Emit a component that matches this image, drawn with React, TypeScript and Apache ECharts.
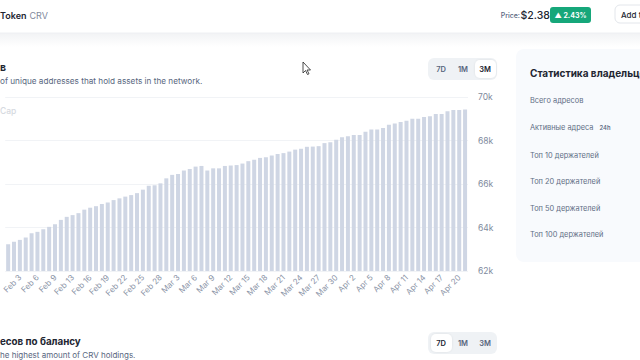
import React, { useEffect, useRef } from "react";
import * as echarts from "echarts";

const dates: string[] = [
  "Feb 1", "Feb 2", "Feb 3", "Feb 4", "Feb 5", "Feb 6", "Feb 7", "Feb 8", "Feb 9",
  "Feb 11", "Feb 12", "Feb 13", "Feb 14", "Feb 15", "Feb 16", "Feb 17", "Feb 18", "Feb 19",
  "Feb 20", "Feb 21", "Feb 22", "Feb 23", "Feb 24", "Feb 25", "Feb 26", "Feb 27", "Feb 28",
  "Mar 1", "Mar 2", "Mar 3", "Mar 4", "Mar 5", "Mar 6", "Mar 7", "Mar 8", "Mar 9", "Mar 10",
  "Mar 11", "Mar 12", "Mar 13", "Mar 14", "Mar 15", "Mar 16", "Mar 17", "Mar 18", "Mar 19",
  "Mar 20", "Mar 21", "Mar 22", "Mar 23", "Mar 24", "Mar 25", "Mar 26", "Mar 27", "Mar 28",
  "Mar 29", "Mar 30", "Mar 31", "Apr 1", "Apr 2", "Apr 3", "Apr 4", "Apr 5", "Apr 6", "Apr 7",
  "Apr 8", "Apr 9", "Apr 10", "Apr 11", "Apr 12", "Apr 13", "Apr 14", "Apr 15", "Apr 16",
  "Apr 17", "Apr 18", "Apr 19", "Apr 20", "Apr 21",
];

const holders: number[] = [
  63230, 63340, 63430, 63540, 63740, 63800, 63920, 64030, 64150, 64350, 64490, 64570, 64660,
  64820, 64910, 64980, 65080, 65150, 65260, 65340, 65420, 65490, 65580, 65740, 65920, 65940,
  66030, 66260, 66420, 66460, 66620, 66690, 66800, 66830, 66620, 66720, 66720, 66830, 66850,
  66870, 66940, 67050, 67110, 67200, 67230, 67310, 67380, 67420, 67490, 67580, 67620, 67710,
  67720, 67740, 67880, 67920, 68030, 68150, 68200, 68250, 68250, 68400, 68510, 68510, 68580,
  68720, 68780, 68850, 68910, 69000, 69000, 69080, 69120, 69220, 69220, 69340, 69400, 69400,
  69430,
];

const yMin = 62000;
const yMax = 70000;
const yStep = 2000;

const statRows: string[] = [
  "Всего адресов",
  "Активные адреса",
  "Топ 10 держателей",
  "Топ 20 держателей",
  "Топ 50 держателей",
  "Топ 100 держателей",
];

const FONT = "Inter, 'Noto Sans', sans-serif";

function segButtons(y: number, selected: number) {
  const labels = ["7D", "1M", "3M"];
  const children: any[] = [
    { type: "rect", shape: { x: 428, y, width: 69, height: 22, r: 6 }, style: { fill: "#eff2f5" } },
  ];
  labels.forEach((l, i) => {
    const cx = 441 + i * 22;
    if (i === selected) {
      children.push({
        type: "rect",
        shape: { x: cx - 10, y: y + 2, width: 21, height: 18, r: 5 },
        style: { fill: "#ffffff", shadowBlur: 2, shadowColor: "rgba(0,0,0,0.08)" },
      });
    }
    children.push({
      type: "text",
      x: cx,
      y: y + 11,
      style: {
        text: l,
        font: `600 7.5px ${FONT}`,
        fill: i === selected ? "#222531" : "#58667e",
        textAlign: "center",
        textVerticalAlign: "middle",
      },
    });
  });
  return children;
}

export default function App() {
  const ref = useRef<HTMLDivElement>(null);
  useEffect(() => {
    if (!ref.current) return;
    const chart = echarts.init(ref.current, null, { renderer: "svg" });
    const graphics: any[] = [
      // header
      { type: "rect", shape: { x: 0, y: 33, width: 640, height: 14 }, style: {
        fill: new echarts.graphic.LinearGradient(0, 0, 0, 1, [
          { offset: 0, color: "rgba(88,102,126,0.08)" },
          { offset: 1, color: "rgba(88,102,126,0)" },
        ]) }, z: 0 },
      { type: "rect", shape: { x: 0, y: 0, width: 640, height: 33 }, style: { fill: "#ffffff" } },
      { type: "line", shape: { x1: 0, y1: 33, x2: 640, y2: 33 }, style: { stroke: "#eef0f3", lineWidth: 1 } },
      { type: "text", x: 0, y: 15, style: { text: "Token", font: `600 9px ${FONT}`, fill: "#222531", textVerticalAlign: "middle" } },
      { type: "text", x: 29.5, y: 15, style: { text: "CRV", font: `400 9px ${FONT}`, fill: "#808a9d", textVerticalAlign: "middle" } },
      { type: "text", x: 520, y: 15, style: { text: "Price:", font: `500 7px ${FONT}`, fill: "#58667e", textAlign: "right", textVerticalAlign: "middle" } },
      { type: "text", x: 520.5, y: 15, style: { text: "$2.38", font: `500 10.5px ${FONT}`, fill: "#222531", textVerticalAlign: "middle" } },
      { type: "rect", shape: { x: 550, y: 7, width: 41, height: 16, r: 3 }, style: { fill: "#16a77a" } },
      { type: "text", x: 570.5, y: 15.5, style: { text: "▲ 2.43%", font: `700 7px ${FONT}`, fill: "#ffffff", textAlign: "center", textVerticalAlign: "middle" } },
      { type: "rect", shape: { x: 615, y: 5, width: 60, height: 18, r: 5 }, style: { fill: "#ffffff", stroke: "#e3e6eb", lineWidth: 1 } },
      { type: "text", x: 621, y: 14.5, style: { text: "Add to", font: `500 8px ${FONT}`, fill: "#222531", textVerticalAlign: "middle" } },

      // left section titles
      { type: "text", x: 0, y: 67, style: { text: "в", font: `700 10.5px ${FONT}`, fill: "#222531", textVerticalAlign: "middle" } },
      { type: "text", x: 0, y: 81, style: { text: "of unique addresses that hold assets in the network.", font: `400 8.2px ${FONT}`, fill: "#58667e", textVerticalAlign: "middle" } },
      { type: "text", x: 0, y: 111, style: { text: "Cap", font: `500 8.5px ${FONT}`, fill: "#d5d9e0", textVerticalAlign: "middle" } },
      ...segButtons(58, 2),

      // bottom section
      { type: "text", x: 0, y: 341, style: { text: "есов по балансу", font: `700 9.8px ${FONT}`, fill: "#222531", textVerticalAlign: "middle" } },
      { type: "text", x: 0, y: 355, style: { text: "he highest amount of CRV holdings.", font: `400 8px ${FONT}`, fill: "#58667e", textVerticalAlign: "middle" } },
      ...segButtons(332, 0),

      // right card
      { type: "rect", shape: { x: 516, y: 49, width: 140, height: 213, r: 8 }, style: { fill: "#f8fafd" } },
      { type: "text", x: 530, y: 73, style: { text: "Статистика владельцев", font: `700 10px ${FONT}`, fill: "#222531", textVerticalAlign: "middle" } },
      ...statRows.map((t, i) => ({
        type: "text", x: 530, y: [100, 127, 155, 181, 208, 234][i],
        style: { text: t, font: `400 7.4px ${FONT}`, fill: "#616e85", textVerticalAlign: "middle" },
      })),
      { type: "text", x: 599.5, y: 127, style: { text: "24h", font: `600 5.8px ${FONT}`, fill: "#616e85", textVerticalAlign: "middle" } },

      // mouse cursor
      { type: "polygon", shape: { points: [[303, 62], [303, 73], [305.5, 70.5], [307.5, 74.5], [309, 73.8], [307, 70], [310.5, 70]] },
        style: { fill: "#ffffff", stroke: "#222222", lineWidth: 0.8 }, z: 100 },
    ];

    chart.setOption({
      animation: false,
      backgroundColor: "#ffffff",
      grid: { left: -2, right: 172, top: 97, bottom: 89, containLabel: false },
      xAxis: {
        type: "category",
        data: dates,
        axisLine: { show: false },
        axisTick: { show: false },
        axisLabel: {
          interval: (idx: number) => idx % 3 === 2,
          rotate: 45,
          fontSize: 8,
          fontFamily: FONT,
          color: "#8a93a6",
          margin: 5,
        },
      },
      yAxis: {
        type: "value",
        position: "right",
        min: yMin,
        max: yMax,
        interval: yStep,
        axisLine: { show: false },
        axisTick: { show: false },
        axisLabel: {
          fontSize: 8.5,
          fontFamily: FONT,
          color: "#808a9d",
          margin: 10,
          formatter: (v: number) => `${v / 1000}k`,
        },
        splitLine: { lineStyle: { color: "#f1f3f6", width: 1 } },
      },
      series: [
        {
          type: "bar",
          data: holders,
          barWidth: 4,
          itemStyle: { color: "#cfd6e4" },
        },
      ],
      graphic: graphics,
    });
    return () => chart.dispose();
  }, []);
  return <div ref={ref} style={{ position: "fixed", left: 0, top: 0, width: 640, height: 360 }} />;
}
